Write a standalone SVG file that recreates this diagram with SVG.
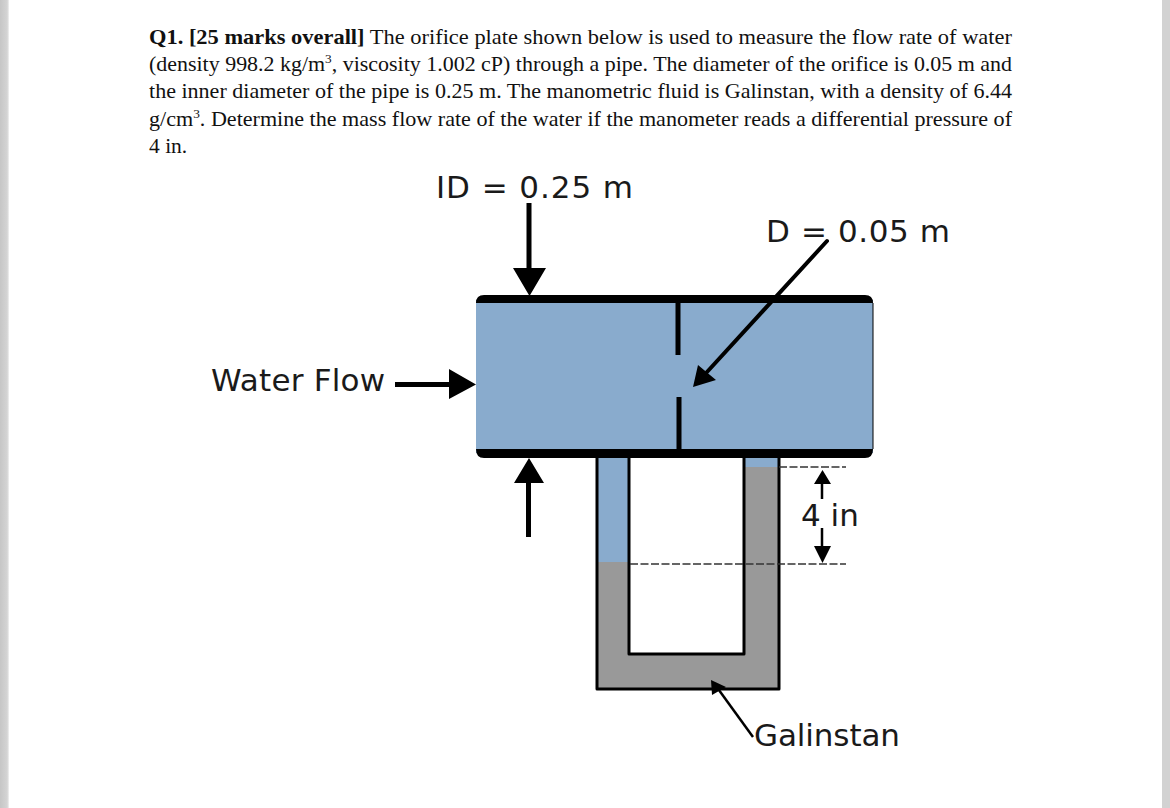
<svg xmlns="http://www.w3.org/2000/svg" width="1170" height="808" viewBox="0 0 1170 808">
<style>
.q{font-family:"Liberation Serif","Times New Roman",serif;font-size:21.5px;fill:#111}
.q tspan.s{font-size:13px}
.l{font-family:"DejaVu Sans",Verdana,sans-serif;font-size:31px;fill:#1a1a1a}
.k{stroke:#000;fill:none}
.d{stroke:#333;stroke-width:1.5;stroke-dasharray:8 2.5;fill:none}
.h{fill:#000;stroke:none}
</style>
<defs><linearGradient id="g1" x1="0" x2="1" y1="0" y2="0"><stop offset="0" stop-color="#c6c6c6"/><stop offset="0.8" stop-color="#d4d4d4"/><stop offset="1" stop-color="#f2f2f2"/></linearGradient></defs>
<rect width="1170" height="808" fill="#fff"/>
<rect x="0" y="0" width="9" height="808" fill="url(#g1)"/>
<rect x="1162" y="0" width="8" height="808" fill="#d2d2d2"/>
<g id="question">
<text class="q" x="149" y="44" textLength="863" lengthAdjust="spacingAndGlyphs"><tspan font-weight="bold">Q1. [25 marks overall]</tspan> The orifice plate shown below is used to measure the flow rate of water</text>
<text class="q" x="149" y="71" textLength="863" lengthAdjust="spacingAndGlyphs">(density 998.2 kg/m<tspan class="s" dy="-8">3</tspan><tspan dy="8">, viscosity 1.002 cP) through a pipe. The diameter of the orifice is 0.05 m and</tspan></text>
<text class="q" x="149" y="98" textLength="863" lengthAdjust="spacingAndGlyphs">the inner diameter of the pipe is 0.25 m. The manometric fluid is Galinstan, with a density of 6.44</text>
<text class="q" x="149" y="126" textLength="863" lengthAdjust="spacingAndGlyphs">g/cm<tspan class="s" dy="-8">3</tspan><tspan dy="8">. Determine the mass flow rate of the water if the manometer reads a differential pressure of</tspan></text>
<text class="q" x="149" y="153">4 in.</text>
</g>
<g id="manometer">
<path d="M597 455H629V562H597Z" fill="#89abcd"/>
<path d="M745 455H778V467H745Z" fill="#89abcd"/>
<path d="M597 562H629V654H744V467H778V689H597Z" fill="#999"/>
<path class="k" stroke-width="3" stroke-linejoin="round" d="M597 455V689H779V455M629 455V654H744V455"/>
</g>
<g id="pipe">
<rect x="476" y="300" width="397" height="153" fill="#89abcd"/>
<path class="h" d="M476 303Q476 295 484 295H865Q873 295 873 303ZM476 449Q476 458 484 458H865Q873 458 873 449Z"/>
<path class="k" stroke-width="1" d="M873 303V449" stroke="#777"/>
<path class="k" stroke-width="5" d="M678 300V355M679 397V452"/>
</g>
<g id="connectors">
<path class="d" d="M779 467H846M630 564H846"/>
<path class="k" stroke-width="5" d="M529 203V272M528.500 478V537M395 384.500H452"/>
<path class="k" stroke-width="4" stroke-linecap="round" d="M827 241L707 372"/>
<path class="h" d="M513 268H546L529.500 296ZM514 483H544L529 458ZM449 369V399L476 384.500ZM693 387L698 365L716 380Z"/>
<path class="k" stroke-width="2.500" d="M822 480V499M822 528V548"/>
<path class="h" d="M814 484H831L822.500 470ZM814 546H831L822.500 563Z"/>
<path class="k" stroke-width="2.500" d="M753 737L716 686"/>
<path class="h" d="M711 680L726 687L712 695Z"/>
</g>
<g id="labels">
<text class="l" x="436" y="198" font-size="32" textLength="197">ID = 0.25 m</text>
<text class="l" x="766" y="242" font-size="32" textLength="184">D = 0.05 m</text>
<text class="l" x="211" y="391" textLength="174">Water Flow</text>
<text class="l" x="801" y="526" font-size="28">4 in</text>
<text class="l" x="754" y="746" textLength="146">Galinstan</text>
</g>
</svg>
